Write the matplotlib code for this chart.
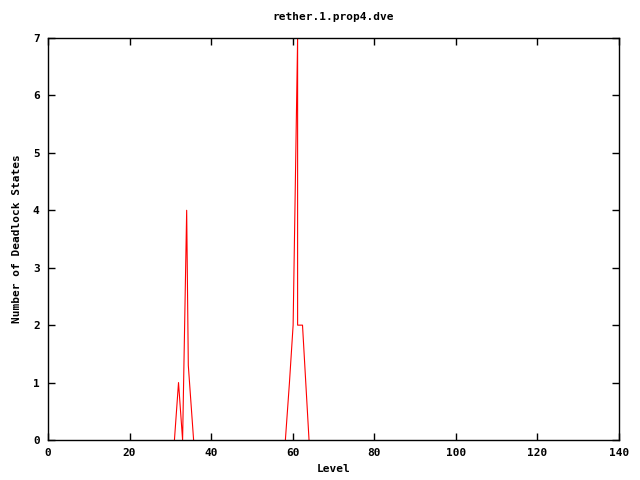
#!/usr/bin/env python3
"""Deadlock states per level for rether.1.prop4.dve (gnuplot-style)"""

import matplotlib
matplotlib.use('Agg')
import matplotlib.pyplot as plt

# levels and deadlock counts
levels_a = [31, 32, 33, 34, 34.4, 35.7]
states_a = [0, 1, 0, 4, 1.3, 0]

levels_b = [58.2, 59.2, 60.1, 61.2, 61.2, 62.4, 64.0]
states_b = [0, 1, 2, 7, 2, 2, 0]

x_ticks = [0, 20, 40, 60, 80, 100, 120, 140]
y_ticks = [0, 1, 2, 3, 4, 5, 6, 7]

title = 'rether.1.prop4.dve'
x_label = 'Level'
y_label = 'Number of Deadlock States'

font = {'family': 'DejaVu Sans Mono', 'weight': 'bold', 'size': 8}

fig = plt.figure(figsize=(6.4, 4.8), dpi=100)
ax = fig.add_axes([48 / 640, 40 / 480, 571 / 640, 402 / 480])

ax.plot(levels_a, states_a, color='#ff0000', linewidth=0.8, zorder=1)
ax.plot(levels_b, states_b, color='#ff0000', linewidth=0.8, zorder=1)

ax.set_xlim(0, 140)
ax.set_ylim(0, 7)
ax.set_xticks(x_ticks)
ax.set_yticks(y_ticks)
ax.tick_params(direction='in', length=5, width=1, top=True, right=True,
               labelsize=8, pad=6)
for lbl in ax.get_xticklabels() + ax.get_yticklabels():
    lbl.set_fontfamily('DejaVu Sans Mono')
    lbl.set_fontweight('bold')
for sp in ax.spines.values():
    sp.set_linewidth(1)
    sp.set_zorder(3)

ax.set_title(title, fontdict=font, pad=13)
ax.set_xlabel(x_label, fontdict=font, labelpad=4)
ax.set_ylabel(y_label, fontdict=font, labelpad=8)

plt.savefig('out.png', dpi=100)
plt.close()
